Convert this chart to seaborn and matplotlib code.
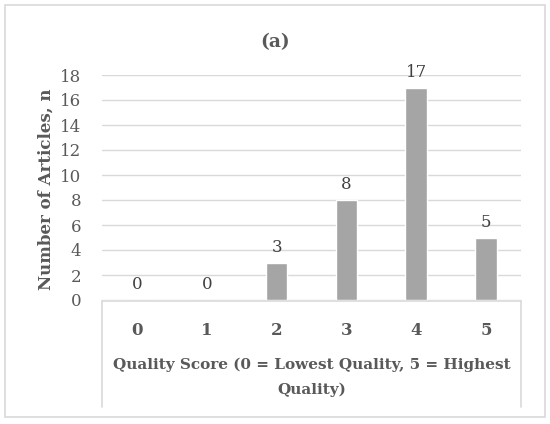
import matplotlib
matplotlib.use("Agg")
import matplotlib.pyplot as plt
import seaborn as sns
import pandas as pd
from matplotlib.lines import Line2D
from matplotlib.patches import Rectangle

scores = ["0", "1", "2", "3", "4", "5"]
counts = [0, 0, 3, 8, 17, 5]
y_ticks = [0, 2, 4, 6, 8, 10, 12, 14, 16, 18]
title = "(a)"
x_label = "Quality Score (0 = Lowest Quality, 5 = Highest\nQuality)"
y_label = "Number of Articles, n"

sns.set_style("white")
plt.rcParams['font.family'] = ['DejaVu Serif']

W, H = 550, 424
fig = plt.figure(figsize=(W / 100, H / 100), dpi=100)
def fx(px): return px / W
def fy(py): return 1 - py / H

txt = "#595959"
ax = fig.add_axes([fx(102), fy(300), fx(521) - fx(102), fy(75) - fy(300)])
df = pd.DataFrame({"score": scores, "count": counts})
sns.barplot(data=df, x="score", y="count", color="#A5A5A5", saturation=1,
            width=0.31, ax=ax)
ax.set_ylim(0, 18)
ax.set_xlim(-0.5, 5.5)
ax.set_yticks(y_ticks)
ax.set_yticklabels([str(t) for t in y_ticks], fontsize=12, color=txt)
ax.yaxis.grid(True, color="#D9D9D9", linewidth=1)
ax.set_axisbelow(True)
for s in ax.spines.values():
    s.set_visible(False)
ax.tick_params(axis="y", length=0, pad=15)
ax.tick_params(axis="x", length=0, pad=16)
ax.set_xticklabels(scores, fontsize=12, fontweight="bold", color=txt)
ax.set_xlabel(x_label, fontsize=11, fontweight="bold", color=txt, labelpad=13, linespacing=1.95)
ax.set_ylabel(y_label, fontsize=12, fontweight="bold", color=txt)
ax.yaxis.set_label_coords(-0.112, 0.49)

for i, v in enumerate(counts):
    ax.annotate(str(v), (i, v), xytext=(0, 5), textcoords="offset points",
                ha="center", va="bottom", fontsize=12, color="#404040")

fig.text(fx(275), fy(42), title, ha="center", va="center", fontsize=13.5,
         fontweight="bold", color=txt)

# category box lines
lc = "#D9D9D9"
fig.add_artist(Line2D([fx(102), fx(521)], [fy(301), fy(301)], color=lc, lw=1.2))
fig.add_artist(Line2D([fx(102), fx(102)], [fy(301), fy(407)], color=lc, lw=1.2))
fig.add_artist(Line2D([fx(521), fx(521)], [fy(301), fy(407)], color=lc, lw=1.2))
# outer border
fig.add_artist(Rectangle((fx(5), fy(417)), fx(545) - fx(5), fy(5) - fy(417),
                         fill=False, edgecolor=lc, lw=1.2, transform=fig.transFigure))

fig.savefig("out.png", dpi=100)
